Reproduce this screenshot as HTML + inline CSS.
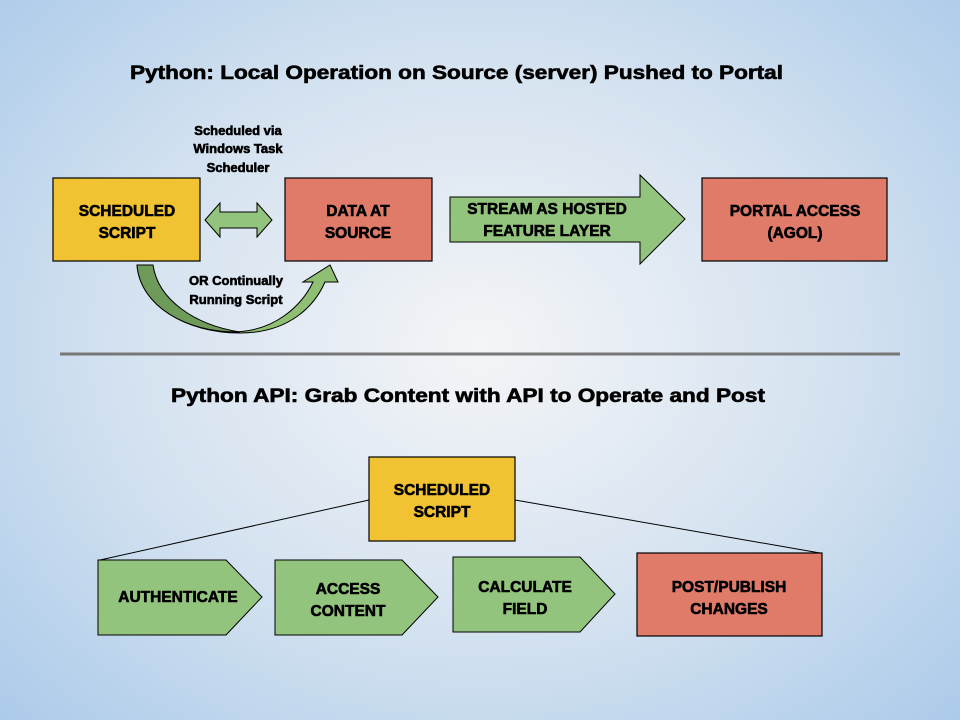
<!DOCTYPE html>
<html><head><style>
html,body{margin:0;padding:0;}
body{width:960px;height:720px;overflow:hidden;background:radial-gradient(ellipse 75% 80% at 50% 48%,#f4f5f7 0%,#d4e2f0 50%,#a5c7e9 100%);}
svg{display:block}
text{font-family:"Liberation Sans",sans-serif;font-weight:bold;fill:#000;stroke:#000;stroke-width:0.6;}
</style></head><body>
<svg width="960" height="720" viewBox="0 0 960 720">
<text x="130" y="79" font-size="19" textLength="653" lengthAdjust="spacingAndGlyphs">Python: Local Operation on Source (server) Pushed to Portal</text>
<text x="238" y="135" font-size="13" text-anchor="middle">Scheduled via</text>
<text x="238" y="153" font-size="13" text-anchor="middle">Windows Task</text>
<text x="238" y="172" font-size="13" text-anchor="middle">Scheduler</text>

<rect x="53" y="178" width="147" height="83" fill="#f1c232" stroke="#000" stroke-width="1.2"/>
<text x="127" y="216" font-size="15.5" text-anchor="middle">SCHEDULED</text>
<text x="127" y="238" font-size="15.5" text-anchor="middle">SCRIPT</text>

<polygon points="205,220 220,203 220,212 257,212 257,203 272,220 257,237 257,228 220,228 220,237" fill="#93c47d" stroke="#000" stroke-width="1"/>

<rect x="285" y="178" width="147" height="83" fill="#e07b6a" stroke="#000" stroke-width="1.2"/>
<text x="358" y="216" font-size="15.5" text-anchor="middle">DATA AT</text>
<text x="358" y="238" font-size="15.5" text-anchor="middle">SOURCE</text>

<path d="M140,265 C145,305 185,331 232,332 C275,332 302,305 313,282 L303,282 L330,265 L338,282 L325,282 C315,305 290,333 240,333 C185,333 140,305 137,265 Z" fill="#8fbf72" stroke="#000" stroke-width="1"/>
<path d="M137,265 L153,265 C158,300 195,325 240,332 C185,333 140,305 137,265 Z" fill="#6e9a5a" stroke="#000" stroke-width="1"/>
<text x="236" y="285" font-size="13" text-anchor="middle">OR Continually</text>
<text x="236" y="304" font-size="13" text-anchor="middle">Running Script</text>

<polygon points="450,197 640,197 640,175 685,219 640,264 640,242 450,242" fill="#93c47d" stroke="#000" stroke-width="1"/>
<text x="547" y="214" font-size="15.5" text-anchor="middle">STREAM AS HOSTED</text>
<text x="547" y="236" font-size="15.5" text-anchor="middle">FEATURE LAYER</text>

<rect x="702" y="178" width="185" height="83" fill="#e07b6a" stroke="#000" stroke-width="1.2"/>
<text x="795" y="216" font-size="15.5" text-anchor="middle">PORTAL ACCESS</text>
<text x="795" y="238" font-size="15.5" text-anchor="middle">(AGOL)</text>

<line x1="60" y1="354" x2="900" y2="354" stroke="#777" stroke-width="3"/>

<text x="171" y="402" font-size="19" textLength="594" lengthAdjust="spacingAndGlyphs">Python API: Grab Content with API to Operate and Post</text>

<line x1="369" y1="500" x2="100" y2="560" stroke="#000" stroke-width="1"/>
<line x1="515" y1="500" x2="820" y2="553" stroke="#000" stroke-width="1"/>

<rect x="369" y="457" width="146" height="84" fill="#f1c232" stroke="#000" stroke-width="1.2"/>
<text x="442" y="495" font-size="15.5" text-anchor="middle">SCHEDULED</text>
<text x="442" y="517" font-size="15.5" text-anchor="middle">SCRIPT</text>

<polygon points="98,560 226,560 262,597 226,635 98,635" fill="#93c47d" stroke="#000" stroke-width="1"/>
<text x="178" y="602" font-size="15.5" text-anchor="middle">AUTHENTICATE</text>

<polygon points="275,560 402,560 438,597 402,635 275,635" fill="#93c47d" stroke="#000" stroke-width="1"/>
<text x="348" y="594" font-size="15.5" text-anchor="middle">ACCESS</text>
<text x="348" y="616" font-size="15.5" text-anchor="middle">CONTENT</text>

<polygon points="453,557 580,557 615,594 580,632 453,632" fill="#93c47d" stroke="#000" stroke-width="1"/>
<text x="525" y="592" font-size="15.5" text-anchor="middle">CALCULATE</text>
<text x="525" y="614" font-size="15.5" text-anchor="middle">FIELD</text>

<rect x="637" y="553" width="185" height="83" fill="#e07b6a" stroke="#000" stroke-width="1.2"/>
<text x="729" y="592" font-size="15.5" text-anchor="middle">POST/PUBLISH</text>
<text x="729" y="614" font-size="15.5" text-anchor="middle">CHANGES</text>
</svg>
</body></html>
